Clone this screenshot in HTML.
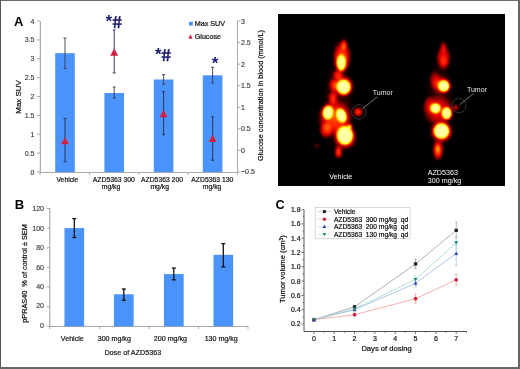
<!DOCTYPE html>
<html><head><meta charset="utf-8"><title>AZD5363 figure</title>
<style>
html,body{margin:0;padding:0;background:#fff;}
svg{display:block;}
text{font-family:"Liberation Sans", Arial, sans-serif;}
.s{stroke-width:0.22px;}
</style></head><body>
<svg width="520" height="369" viewBox="0 0 520 369">
<rect x="0" y="0" width="520" height="369" fill="#fff"/>

<text x="14" y="26" font-size="13" font-weight="bold" fill="#000">A</text>
<line x1="40.3" y1="21" x2="40.3" y2="172.5" stroke="#9a9a9a" stroke-width="1"/>
<line x1="237.5" y1="21" x2="237.5" y2="172.5" stroke="#a8a8a8" stroke-width="1"/>
<line x1="40" y1="172.5" x2="237.5" y2="172.5" stroke="#a8a8a8" stroke-width="1"/>
<line x1="37" y1="21.00" x2="40" y2="21.00" stroke="#a8a8a8" stroke-width="1"/>
<text x="34.5" y="23.50" font-size="7" text-anchor="end" fill="#3c3c3c" stroke="#3c3c3c" stroke-width="0.15">4</text>
<line x1="37" y1="39.88" x2="40" y2="39.88" stroke="#a8a8a8" stroke-width="1"/>
<text x="34.5" y="42.38" font-size="7" text-anchor="end" fill="#3c3c3c" stroke="#3c3c3c" stroke-width="0.15">3.5</text>
<line x1="37" y1="58.75" x2="40" y2="58.75" stroke="#a8a8a8" stroke-width="1"/>
<text x="34.5" y="61.25" font-size="7" text-anchor="end" fill="#3c3c3c" stroke="#3c3c3c" stroke-width="0.15">3</text>
<line x1="37" y1="77.62" x2="40" y2="77.62" stroke="#a8a8a8" stroke-width="1"/>
<text x="34.5" y="80.12" font-size="7" text-anchor="end" fill="#3c3c3c" stroke="#3c3c3c" stroke-width="0.15">2.5</text>
<line x1="37" y1="96.50" x2="40" y2="96.50" stroke="#a8a8a8" stroke-width="1"/>
<text x="34.5" y="99.00" font-size="7" text-anchor="end" fill="#3c3c3c" stroke="#3c3c3c" stroke-width="0.15">2</text>
<line x1="37" y1="115.38" x2="40" y2="115.38" stroke="#a8a8a8" stroke-width="1"/>
<text x="34.5" y="117.88" font-size="7" text-anchor="end" fill="#3c3c3c" stroke="#3c3c3c" stroke-width="0.15">1.5</text>
<line x1="37" y1="134.25" x2="40" y2="134.25" stroke="#a8a8a8" stroke-width="1"/>
<text x="34.5" y="136.75" font-size="7" text-anchor="end" fill="#3c3c3c" stroke="#3c3c3c" stroke-width="0.15">1</text>
<line x1="37" y1="153.12" x2="40" y2="153.12" stroke="#a8a8a8" stroke-width="1"/>
<text x="34.5" y="155.62" font-size="7" text-anchor="end" fill="#3c3c3c" stroke="#3c3c3c" stroke-width="0.15">0.5</text>
<line x1="37" y1="172.00" x2="40" y2="172.00" stroke="#a8a8a8" stroke-width="1"/>
<text x="34.5" y="174.50" font-size="7" text-anchor="end" fill="#3c3c3c" stroke="#3c3c3c" stroke-width="0.15">0</text>
<line x1="237.5" y1="21.00" x2="240.5" y2="21.00" stroke="#a8a8a8" stroke-width="1"/>
<text x="241" y="23.50" font-size="7" fill="#3c3c3c" stroke="#3c3c3c" stroke-width="0.15">3</text>
<line x1="237.5" y1="42.57" x2="240.5" y2="42.57" stroke="#a8a8a8" stroke-width="1"/>
<text x="241" y="45.07" font-size="7" fill="#3c3c3c" stroke="#3c3c3c" stroke-width="0.15">2.5</text>
<line x1="237.5" y1="64.14" x2="240.5" y2="64.14" stroke="#a8a8a8" stroke-width="1"/>
<text x="241" y="66.64" font-size="7" fill="#3c3c3c" stroke="#3c3c3c" stroke-width="0.15">2</text>
<line x1="237.5" y1="85.71" x2="240.5" y2="85.71" stroke="#a8a8a8" stroke-width="1"/>
<text x="241" y="88.21" font-size="7" fill="#3c3c3c" stroke="#3c3c3c" stroke-width="0.15">1.5</text>
<line x1="237.5" y1="107.28" x2="240.5" y2="107.28" stroke="#a8a8a8" stroke-width="1"/>
<text x="241" y="109.78" font-size="7" fill="#3c3c3c" stroke="#3c3c3c" stroke-width="0.15">1</text>
<line x1="237.5" y1="128.85" x2="240.5" y2="128.85" stroke="#a8a8a8" stroke-width="1"/>
<text x="241" y="131.35" font-size="7" fill="#3c3c3c" stroke="#3c3c3c" stroke-width="0.15">0.5</text>
<line x1="237.5" y1="150.42" x2="240.5" y2="150.42" stroke="#a8a8a8" stroke-width="1"/>
<text x="241" y="152.92" font-size="7" fill="#3c3c3c" stroke="#3c3c3c" stroke-width="0.15">0</text>
<line x1="237.5" y1="171.99" x2="240.5" y2="171.99" stroke="#a8a8a8" stroke-width="1"/>
<text x="241" y="174.49" font-size="7" fill="#3c3c3c" stroke="#3c3c3c" stroke-width="0.15">−0.5</text>
<line x1="40" y1="172.5" x2="40" y2="175" stroke="#a8a8a8" stroke-width="1"/>
<line x1="89.4" y1="172.5" x2="89.4" y2="175" stroke="#a8a8a8" stroke-width="1"/>
<line x1="138.8" y1="172.5" x2="138.8" y2="175" stroke="#a8a8a8" stroke-width="1"/>
<line x1="188.2" y1="172.5" x2="188.2" y2="175" stroke="#a8a8a8" stroke-width="1"/>
<line x1="237.5" y1="172.5" x2="237.5" y2="175" stroke="#a8a8a8" stroke-width="1"/>
<text transform="translate(20.7,97) rotate(-90)" font-size="7.9" text-anchor="middle" fill="#111" stroke="#111" stroke-width="0.22">Max SUV</text>
<text transform="translate(263.3,95.5) rotate(-90)" font-size="7.3" text-anchor="middle" fill="#111" stroke="#111" stroke-width="0.22">Glucose concentration in blood (mmol/L)</text>
<text x="67.4" y="182" font-size="6.8" text-anchor="middle" fill="#1a1a1a" stroke="#1a1a1a" stroke-width="0.22">Vehicle</text>
<text x="113.8" y="182" font-size="6.8" text-anchor="middle" fill="#1a1a1a" stroke="#1a1a1a" stroke-width="0.22">AZD5363 300</text>
<text x="111.0" y="188.5" font-size="6.8" text-anchor="middle" fill="#1a1a1a" stroke="#1a1a1a" stroke-width="0.22">mg/kg</text>
<text x="162.0" y="182" font-size="6.8" text-anchor="middle" fill="#1a1a1a" stroke="#1a1a1a" stroke-width="0.22">AZD5363 200</text>
<text x="159.7" y="188.5" font-size="6.8" text-anchor="middle" fill="#1a1a1a" stroke="#1a1a1a" stroke-width="0.22">mg/kg</text>
<text x="212.3" y="182" font-size="6.8" text-anchor="middle" fill="#1a1a1a" stroke="#1a1a1a" stroke-width="0.22">AZD5363 130</text>
<text x="212.1" y="188.5" font-size="6.8" text-anchor="middle" fill="#1a1a1a" stroke="#1a1a1a" stroke-width="0.22">mg/kg</text>
<rect x="55.20" y="53.20" width="19.6" height="118.80" fill="#4a93fa"/>
<rect x="104.40" y="93.00" width="19.6" height="79.00" fill="#4a93fa"/>
<rect x="153.80" y="79.50" width="19.6" height="92.50" fill="#4a93fa"/>
<rect x="202.80" y="75.30" width="19.6" height="96.70" fill="#4a93fa"/>
<line x1="65.0" y1="38.1" x2="65.0" y2="68.5" stroke="#3a3a4a" stroke-width="0.9"/>
<line x1="63.5" y1="38.1" x2="66.5" y2="38.1" stroke="#3a3a4a" stroke-width="0.9"/>
<line x1="63.5" y1="68.5" x2="66.5" y2="68.5" stroke="#3a3a4a" stroke-width="0.9"/>
<line x1="114.2" y1="87.0" x2="114.2" y2="98.0" stroke="#3a3a4a" stroke-width="0.9"/>
<line x1="112.7" y1="87.0" x2="115.7" y2="87.0" stroke="#3a3a4a" stroke-width="0.9"/>
<line x1="112.7" y1="98.0" x2="115.7" y2="98.0" stroke="#3a3a4a" stroke-width="0.9"/>
<line x1="163.6" y1="74.6" x2="163.6" y2="84.1" stroke="#3a3a4a" stroke-width="0.9"/>
<line x1="162.1" y1="74.6" x2="165.1" y2="74.6" stroke="#3a3a4a" stroke-width="0.9"/>
<line x1="162.1" y1="84.1" x2="165.1" y2="84.1" stroke="#3a3a4a" stroke-width="0.9"/>
<line x1="212.6" y1="67.3" x2="212.6" y2="82.9" stroke="#3a3a4a" stroke-width="0.9"/>
<line x1="211.1" y1="67.3" x2="214.1" y2="67.3" stroke="#3a3a4a" stroke-width="0.9"/>
<line x1="211.1" y1="82.9" x2="214.1" y2="82.9" stroke="#3a3a4a" stroke-width="0.9"/>
<line x1="65.0" y1="118.6" x2="65.0" y2="161.9" stroke="#2a2a48" stroke-width="0.9"/>
<line x1="63.5" y1="118.6" x2="66.5" y2="118.6" stroke="#2a2a48" stroke-width="0.9"/>
<line x1="63.5" y1="161.9" x2="66.5" y2="161.9" stroke="#2a2a48" stroke-width="0.9"/>
<polygon points="65.00,137.00 69.00,144.20 61.00,144.20" fill="#d4203f"/>
<line x1="114.2" y1="30.0" x2="114.2" y2="72.9" stroke="#2a2a48" stroke-width="0.9"/>
<line x1="112.7" y1="30.0" x2="115.7" y2="30.0" stroke="#2a2a48" stroke-width="0.9"/>
<line x1="112.7" y1="72.9" x2="115.7" y2="72.9" stroke="#2a2a48" stroke-width="0.9"/>
<polygon points="114.20,48.50 118.20,55.70 110.20,55.70" fill="#d4203f"/>
<line x1="163.6" y1="91.6" x2="163.6" y2="134.7" stroke="#2a2a48" stroke-width="0.9"/>
<line x1="162.1" y1="91.6" x2="165.1" y2="91.6" stroke="#2a2a48" stroke-width="0.9"/>
<line x1="162.1" y1="134.7" x2="165.1" y2="134.7" stroke="#2a2a48" stroke-width="0.9"/>
<polygon points="163.60,110.00 167.60,117.20 159.60,117.20" fill="#d4203f"/>
<line x1="212.6" y1="116.8" x2="212.6" y2="160.2" stroke="#2a2a48" stroke-width="0.9"/>
<line x1="211.1" y1="116.8" x2="214.1" y2="116.8" stroke="#2a2a48" stroke-width="0.9"/>
<line x1="211.1" y1="160.2" x2="214.1" y2="160.2" stroke="#2a2a48" stroke-width="0.9"/>
<polygon points="212.60,134.80 216.60,142.00 208.60,142.00" fill="#d4203f"/>
<text x="105.6" y="26.6" font-size="17" font-weight="bold" fill="#1c1c6c">*</text>
<text transform="translate(112.9,27.6) skewX(6)" font-size="17.2" font-weight="bold" fill="#1c1c6c" stroke="#1c1c6c" stroke-width="0.35">#</text>
<text x="155.0" y="59.6" font-size="17" font-weight="bold" fill="#1c1c6c">*</text>
<text transform="translate(161.9,61.0) skewX(6)" font-size="17.2" font-weight="bold" fill="#1c1c6c" stroke="#1c1c6c" stroke-width="0.35">#</text>
<text x="211.7" y="69.0" font-size="17" font-weight="bold" fill="#1c1c6c">*</text>
<rect x="189" y="21.8" width="3.8" height="3.8" fill="#4a93fa"/>
<text x="194.7" y="26.1" font-size="7.2" fill="#111" stroke="#111" stroke-width="0.22">Max SUV</text>
<polygon points="190.5,34.2 192.6,38.7 188.4,38.7" fill="#d4203f"/>
<text x="194.7" y="38.8" font-size="7.2" fill="#111" stroke="#111" stroke-width="0.22">Glucose</text>
<text x="14.7" y="208.5" font-size="13" font-weight="bold" fill="#000">B</text>
<line x1="49.8" y1="208.3" x2="49.8" y2="326.5" stroke="#999" stroke-width="1"/>
<line x1="50" y1="326.5" x2="248" y2="326.5" stroke="#a8a8a8" stroke-width="1"/>
<line x1="47" y1="208.46" x2="50" y2="208.46" stroke="#a8a8a8" stroke-width="1"/>
<text x="44" y="211.20" font-size="7" text-anchor="end" fill="#3c3c3c" stroke="#3c3c3c" stroke-width="0.15">120</text>
<line x1="47" y1="228.10" x2="50" y2="228.10" stroke="#a8a8a8" stroke-width="1"/>
<text x="44" y="230.65" font-size="7" text-anchor="end" fill="#3c3c3c" stroke="#3c3c3c" stroke-width="0.15">100</text>
<line x1="47" y1="247.74" x2="50" y2="247.74" stroke="#a8a8a8" stroke-width="1"/>
<text x="44" y="250.10" font-size="7" text-anchor="end" fill="#3c3c3c" stroke="#3c3c3c" stroke-width="0.15">80</text>
<line x1="47" y1="267.38" x2="50" y2="267.38" stroke="#a8a8a8" stroke-width="1"/>
<text x="44" y="269.55" font-size="7" text-anchor="end" fill="#3c3c3c" stroke="#3c3c3c" stroke-width="0.15">60</text>
<line x1="47" y1="287.02" x2="50" y2="287.02" stroke="#a8a8a8" stroke-width="1"/>
<text x="44" y="289.00" font-size="7" text-anchor="end" fill="#3c3c3c" stroke="#3c3c3c" stroke-width="0.15">40</text>
<line x1="47" y1="306.66" x2="50" y2="306.66" stroke="#a8a8a8" stroke-width="1"/>
<text x="44" y="308.45" font-size="7" text-anchor="end" fill="#3c3c3c" stroke="#3c3c3c" stroke-width="0.15">20</text>
<line x1="47" y1="326.30" x2="50" y2="326.30" stroke="#a8a8a8" stroke-width="1"/>
<text x="44" y="327.90" font-size="7" text-anchor="end" fill="#3c3c3c" stroke="#3c3c3c" stroke-width="0.15">0</text>
<line x1="50" y1="326.5" x2="50" y2="329" stroke="#a8a8a8" stroke-width="1"/>
<line x1="99.5" y1="326.5" x2="99.5" y2="329" stroke="#a8a8a8" stroke-width="1"/>
<line x1="149" y1="326.5" x2="149" y2="329" stroke="#a8a8a8" stroke-width="1"/>
<line x1="198.5" y1="326.5" x2="198.5" y2="329" stroke="#a8a8a8" stroke-width="1"/>
<line x1="248" y1="326.5" x2="248" y2="329" stroke="#a8a8a8" stroke-width="1"/>
<rect x="64.45" y="228.10" width="19.7" height="98.20" fill="#4a93fa"/>
<rect x="113.95" y="294.29" width="19.7" height="32.01" fill="#4a93fa"/>
<rect x="163.95" y="274.06" width="19.7" height="52.24" fill="#4a93fa"/>
<rect x="213.45" y="254.81" width="19.7" height="71.49" fill="#4a93fa"/>
<line x1="74.3" y1="218.67" x2="74.3" y2="237.53" stroke="#111" stroke-width="1.3"/>
<line x1="72.3" y1="218.67" x2="76.3" y2="218.67" stroke="#111" stroke-width="1.3"/>
<line x1="72.3" y1="237.53" x2="76.3" y2="237.53" stroke="#111" stroke-width="1.3"/>
<line x1="123.8" y1="288.98" x2="123.8" y2="300.28" stroke="#111" stroke-width="1.3"/>
<line x1="121.8" y1="288.98" x2="125.8" y2="288.98" stroke="#111" stroke-width="1.3"/>
<line x1="121.8" y1="300.28" x2="125.8" y2="300.28" stroke="#111" stroke-width="1.3"/>
<line x1="173.8" y1="268.07" x2="173.8" y2="279.85" stroke="#111" stroke-width="1.3"/>
<line x1="171.8" y1="268.07" x2="175.8" y2="268.07" stroke="#111" stroke-width="1.3"/>
<line x1="171.8" y1="279.85" x2="175.8" y2="279.85" stroke="#111" stroke-width="1.3"/>
<line x1="223.3" y1="243.62" x2="223.3" y2="266.89" stroke="#111" stroke-width="1.3"/>
<line x1="221.3" y1="243.62" x2="225.3" y2="243.62" stroke="#111" stroke-width="1.3"/>
<line x1="221.3" y1="266.89" x2="225.3" y2="266.89" stroke="#111" stroke-width="1.3"/>
<text x="72.3" y="340.6" font-size="7.1" text-anchor="middle" fill="#1a1a1a" stroke="#1a1a1a" stroke-width="0.22">Vehicle</text>
<text x="114.3" y="340.6" font-size="7.1" text-anchor="middle" fill="#1a1a1a" stroke="#1a1a1a" stroke-width="0.22">300 mg/kg</text>
<text x="170.4" y="340.6" font-size="7.1" text-anchor="middle" fill="#1a1a1a" stroke="#1a1a1a" stroke-width="0.22">200 mg/kg</text>
<text x="221.2" y="340.6" font-size="7.1" text-anchor="middle" fill="#1a1a1a" stroke="#1a1a1a" stroke-width="0.22">130 mg/kg</text>
<text x="132.8" y="354.8" font-size="7.2" text-anchor="middle" fill="#1a1a1a" stroke="#1a1a1a" stroke-width="0.22">Dose of AZD5363</text>
<text transform="translate(27.2,273.5) rotate(-90)" font-size="7.3" text-anchor="middle" fill="#111" stroke="#111" stroke-width="0.22" xml:space="preserve">pPRAS40  % of control ± SEM</text>
<text x="275.6" y="208.6" font-size="12.6" font-weight="bold" fill="#000">C</text>
<line x1="304" y1="209.60" x2="304" y2="331.5" stroke="#555" stroke-width="1"/>
<line x1="304" y1="331.5" x2="467" y2="331.5" stroke="#555" stroke-width="1"/>
<line x1="301.5" y1="324.00" x2="304" y2="324.00" stroke="#555" stroke-width="0.8"/>
<text x="300.5" y="326.40" font-size="6.9" text-anchor="end" fill="#1a1a1a" stroke="#1a1a1a" stroke-width="0.22">0.2</text>
<line x1="301.5" y1="309.70" x2="304" y2="309.70" stroke="#555" stroke-width="0.8"/>
<text x="300.5" y="312.10" font-size="6.9" text-anchor="end" fill="#1a1a1a" stroke="#1a1a1a" stroke-width="0.22">0.4</text>
<line x1="301.5" y1="295.40" x2="304" y2="295.40" stroke="#555" stroke-width="0.8"/>
<text x="300.5" y="297.80" font-size="6.9" text-anchor="end" fill="#1a1a1a" stroke="#1a1a1a" stroke-width="0.22">0.6</text>
<line x1="301.5" y1="281.10" x2="304" y2="281.10" stroke="#555" stroke-width="0.8"/>
<text x="300.5" y="283.50" font-size="6.9" text-anchor="end" fill="#1a1a1a" stroke="#1a1a1a" stroke-width="0.22">0.8</text>
<line x1="301.5" y1="266.80" x2="304" y2="266.80" stroke="#555" stroke-width="0.8"/>
<text x="300.5" y="269.20" font-size="6.9" text-anchor="end" fill="#1a1a1a" stroke="#1a1a1a" stroke-width="0.22">1.0</text>
<line x1="301.5" y1="252.50" x2="304" y2="252.50" stroke="#555" stroke-width="0.8"/>
<text x="300.5" y="254.90" font-size="6.9" text-anchor="end" fill="#1a1a1a" stroke="#1a1a1a" stroke-width="0.22">1.2</text>
<line x1="301.5" y1="238.20" x2="304" y2="238.20" stroke="#555" stroke-width="0.8"/>
<text x="300.5" y="240.60" font-size="6.9" text-anchor="end" fill="#1a1a1a" stroke="#1a1a1a" stroke-width="0.22">1.4</text>
<line x1="301.5" y1="223.90" x2="304" y2="223.90" stroke="#555" stroke-width="0.8"/>
<text x="300.5" y="226.30" font-size="6.9" text-anchor="end" fill="#1a1a1a" stroke="#1a1a1a" stroke-width="0.22">1.6</text>
<line x1="301.5" y1="209.60" x2="304" y2="209.60" stroke="#555" stroke-width="0.8"/>
<text x="300.5" y="212.00" font-size="6.9" text-anchor="end" fill="#1a1a1a" stroke="#1a1a1a" stroke-width="0.22">1.8</text>
<line x1="302.5" y1="316.85" x2="304" y2="316.85" stroke="#555" stroke-width="0.7"/>
<line x1="302.5" y1="302.55" x2="304" y2="302.55" stroke="#555" stroke-width="0.7"/>
<line x1="302.5" y1="288.25" x2="304" y2="288.25" stroke="#555" stroke-width="0.7"/>
<line x1="302.5" y1="273.95" x2="304" y2="273.95" stroke="#555" stroke-width="0.7"/>
<line x1="302.5" y1="259.65" x2="304" y2="259.65" stroke="#555" stroke-width="0.7"/>
<line x1="302.5" y1="245.35" x2="304" y2="245.35" stroke="#555" stroke-width="0.7"/>
<line x1="302.5" y1="231.05" x2="304" y2="231.05" stroke="#555" stroke-width="0.7"/>
<line x1="302.5" y1="216.75" x2="304" y2="216.75" stroke="#555" stroke-width="0.7"/>
<line x1="313.90" y1="331.5" x2="313.90" y2="334" stroke="#555" stroke-width="0.8"/>
<text x="313.90" y="340.5" font-size="7" text-anchor="middle" fill="#1a1a1a" stroke="#1a1a1a" stroke-width="0.22">0</text>
<line x1="324.06" y1="331.5" x2="324.06" y2="333" stroke="#555" stroke-width="0.7"/>
<line x1="334.23" y1="331.5" x2="334.23" y2="334" stroke="#555" stroke-width="0.8"/>
<text x="334.23" y="340.5" font-size="7" text-anchor="middle" fill="#1a1a1a" stroke="#1a1a1a" stroke-width="0.22">1</text>
<line x1="344.39" y1="331.5" x2="344.39" y2="333" stroke="#555" stroke-width="0.7"/>
<line x1="354.56" y1="331.5" x2="354.56" y2="334" stroke="#555" stroke-width="0.8"/>
<text x="354.56" y="340.5" font-size="7" text-anchor="middle" fill="#1a1a1a" stroke="#1a1a1a" stroke-width="0.22">2</text>
<line x1="364.72" y1="331.5" x2="364.72" y2="333" stroke="#555" stroke-width="0.7"/>
<line x1="374.89" y1="331.5" x2="374.89" y2="334" stroke="#555" stroke-width="0.8"/>
<text x="374.89" y="340.5" font-size="7" text-anchor="middle" fill="#1a1a1a" stroke="#1a1a1a" stroke-width="0.22">3</text>
<line x1="385.05" y1="331.5" x2="385.05" y2="333" stroke="#555" stroke-width="0.7"/>
<line x1="395.22" y1="331.5" x2="395.22" y2="334" stroke="#555" stroke-width="0.8"/>
<text x="395.22" y="340.5" font-size="7" text-anchor="middle" fill="#1a1a1a" stroke="#1a1a1a" stroke-width="0.22">4</text>
<line x1="405.38" y1="331.5" x2="405.38" y2="333" stroke="#555" stroke-width="0.7"/>
<line x1="415.55" y1="331.5" x2="415.55" y2="334" stroke="#555" stroke-width="0.8"/>
<text x="415.55" y="340.5" font-size="7" text-anchor="middle" fill="#1a1a1a" stroke="#1a1a1a" stroke-width="0.22">5</text>
<line x1="425.71" y1="331.5" x2="425.71" y2="333" stroke="#555" stroke-width="0.7"/>
<line x1="435.88" y1="331.5" x2="435.88" y2="334" stroke="#555" stroke-width="0.8"/>
<text x="435.88" y="340.5" font-size="7" text-anchor="middle" fill="#1a1a1a" stroke="#1a1a1a" stroke-width="0.22">6</text>
<line x1="446.04" y1="331.5" x2="446.04" y2="333" stroke="#555" stroke-width="0.7"/>
<line x1="456.21" y1="331.5" x2="456.21" y2="334" stroke="#555" stroke-width="0.8"/>
<text x="456.21" y="340.5" font-size="7" text-anchor="middle" fill="#1a1a1a" stroke="#1a1a1a" stroke-width="0.22">7</text>
<line x1="466.38" y1="331.5" x2="466.38" y2="333" stroke="#555" stroke-width="0.7"/>
<text x="386.5" y="351.2" font-size="7.6" text-anchor="middle" fill="#111" stroke="#111" stroke-width="0.22">Days of dosing</text>
<text transform="translate(285.2,269.2) rotate(-90)" font-size="7.55" text-anchor="middle" fill="#111" stroke="#111" stroke-width="0.22">Tumor volume (cm<tspan font-size="4.8" dy="-2.5">3</tspan><tspan dy="2.5">)</tspan></text>
<line x1="415.55" y1="259.29" x2="415.55" y2="268.59" stroke="#9a9a9a" stroke-width="0.7"/>
<line x1="414.25" y1="268.59" x2="416.85" y2="268.59" stroke="#9a9a9a" stroke-width="0.7"/>
<line x1="414.25" y1="259.29" x2="416.85" y2="259.29" stroke="#9a9a9a" stroke-width="0.7"/>
<line x1="456.21" y1="222.11" x2="456.21" y2="237.84" stroke="#9a9a9a" stroke-width="0.7"/>
<line x1="454.91" y1="237.84" x2="457.51" y2="237.84" stroke="#9a9a9a" stroke-width="0.7"/>
<line x1="454.91" y1="222.11" x2="457.51" y2="222.11" stroke="#9a9a9a" stroke-width="0.7"/>
<line x1="415.55" y1="293.97" x2="415.55" y2="303.26" stroke="#f29a9a" stroke-width="0.7"/>
<line x1="414.25" y1="303.26" x2="416.85" y2="303.26" stroke="#f29a9a" stroke-width="0.7"/>
<line x1="414.25" y1="293.97" x2="416.85" y2="293.97" stroke="#f29a9a" stroke-width="0.7"/>
<line x1="456.21" y1="274.67" x2="456.21" y2="285.03" stroke="#f29a9a" stroke-width="0.7"/>
<line x1="454.91" y1="285.03" x2="457.51" y2="285.03" stroke="#f29a9a" stroke-width="0.7"/>
<line x1="454.91" y1="274.67" x2="457.51" y2="274.67" stroke="#f29a9a" stroke-width="0.7"/>
<line x1="415.55" y1="278.95" x2="415.55" y2="286.82" stroke="#9ab4e8" stroke-width="0.7"/>
<line x1="414.25" y1="286.82" x2="416.85" y2="286.82" stroke="#9ab4e8" stroke-width="0.7"/>
<line x1="414.25" y1="278.95" x2="416.85" y2="278.95" stroke="#9ab4e8" stroke-width="0.7"/>
<line x1="456.21" y1="245.35" x2="456.21" y2="265.37" stroke="#9ab4e8" stroke-width="0.7"/>
<line x1="454.91" y1="265.37" x2="457.51" y2="265.37" stroke="#9ab4e8" stroke-width="0.7"/>
<line x1="454.91" y1="245.35" x2="457.51" y2="245.35" stroke="#9ab4e8" stroke-width="0.7"/>
<line x1="415.55" y1="276.10" x2="415.55" y2="282.53" stroke="#9ad8cc" stroke-width="0.7"/>
<line x1="414.25" y1="282.53" x2="416.85" y2="282.53" stroke="#9ad8cc" stroke-width="0.7"/>
<line x1="414.25" y1="276.10" x2="416.85" y2="276.10" stroke="#9ad8cc" stroke-width="0.7"/>
<line x1="456.21" y1="236.77" x2="456.21" y2="248.93" stroke="#9ad8cc" stroke-width="0.7"/>
<line x1="454.91" y1="248.93" x2="457.51" y2="248.93" stroke="#9ad8cc" stroke-width="0.7"/>
<line x1="454.91" y1="236.77" x2="457.51" y2="236.77" stroke="#9ad8cc" stroke-width="0.7"/>
<polyline points="313.90,319.71 354.56,306.84 415.55,263.94 456.21,230.33" fill="none" stroke="#9a9a9a" stroke-width="0.8"/>
<polyline points="313.90,319.71 354.56,314.70 415.55,298.69 456.21,279.81" fill="none" stroke="#f29a9a" stroke-width="0.8"/>
<polyline points="313.90,319.71 354.56,309.70 415.55,283.25 456.21,253.43" fill="none" stroke="#9ab4e8" stroke-width="0.8"/>
<polyline points="313.90,319.71 354.56,308.99 415.55,279.38 456.21,242.70" fill="none" stroke="#9ad8cc" stroke-width="0.8"/>
<rect x="312.25" y="318.06" width="3.30" height="3.30" fill="#222"/>
<rect x="352.91" y="305.19" width="3.30" height="3.30" fill="#222"/>
<rect x="413.90" y="262.29" width="3.30" height="3.30" fill="#222"/>
<rect x="454.56" y="228.68" width="3.30" height="3.30" fill="#222"/>
<circle cx="313.90" cy="319.71" r="1.85" fill="#d0203a"/>
<circle cx="354.56" cy="314.70" r="1.85" fill="#d0203a"/>
<circle cx="415.55" cy="298.69" r="1.85" fill="#d0203a"/>
<circle cx="456.21" cy="279.81" r="1.85" fill="#d0203a"/>
<polygon points="313.90,317.66 315.85,321.16 311.95,321.16" fill="#2a3fb0"/>
<polygon points="354.56,307.65 356.51,311.15 352.61,311.15" fill="#2a3fb0"/>
<polygon points="415.55,281.20 417.50,284.69 413.60,284.69" fill="#2a3fb0"/>
<polygon points="456.21,251.38 458.16,254.88 454.26,254.88" fill="#2a3fb0"/>
<polygon points="313.90,321.76 315.85,318.26 311.95,318.26" fill="#1f8a7a"/>
<polygon points="354.56,311.03 356.51,307.54 352.61,307.54" fill="#1f8a7a"/>
<polygon points="415.55,281.43 417.50,277.93 413.60,277.93" fill="#1f8a7a"/>
<polygon points="456.21,244.75 458.16,241.25 454.26,241.25" fill="#1f8a7a"/>
<rect x="315.2" y="207.5" width="94.8" height="31.2" fill="#fff" stroke="#cfcfcf" stroke-width="0.8"/>
<line x1="317.6" y1="211.60" x2="331.2" y2="211.60" stroke="#9a9a9a" stroke-width="0.8" opacity="0.55"/>
<rect x="322.90" y="210.10" width="3.00" height="3.00" fill="#222"/>
<text x="333.9" y="214.00" font-size="6.7" fill="#111" stroke="#111" stroke-width="0.22" xml:space="preserve">Vehicle</text>
<line x1="317.6" y1="219.17" x2="331.2" y2="219.17" stroke="#f29a9a" stroke-width="0.8" opacity="0.55"/>
<circle cx="324.40" cy="219.17" r="1.70" fill="#d0203a"/>
<text x="333.9" y="221.57" font-size="6.7" fill="#111" stroke="#111" stroke-width="0.22" xml:space="preserve">AZD5363  300 mg/kg  qd</text>
<line x1="317.6" y1="226.74" x2="331.2" y2="226.74" stroke="#9ab4e8" stroke-width="0.8" opacity="0.55"/>
<polygon points="324.40,224.84 326.20,228.04 322.60,228.04" fill="#2a3fb0"/>
<text x="333.9" y="229.14" font-size="6.7" fill="#111" stroke="#111" stroke-width="0.22" xml:space="preserve">AZD5363  200 mg/kg  qd</text>
<line x1="317.6" y1="234.31" x2="331.2" y2="234.31" stroke="#9ad8cc" stroke-width="0.8" opacity="0.55"/>
<polygon points="324.40,236.21 326.20,233.01 322.60,233.01" fill="#1f8a7a"/>
<text x="333.9" y="236.71" font-size="6.7" fill="#111" stroke="#111" stroke-width="0.22" xml:space="preserve">AZD5363  130 mg/kg  qd</text>
<defs>
<filter id="hot" x="0" y="0" width="1" height="1" color-interpolation-filters="sRGB">
<feGaussianBlur stdDeviation="1"/>
<feComponentTransfer>
<feFuncR type="table" tableValues="0 0.3 0.6 0.85 1 1 1 1 1 1 1"/>
<feFuncG type="table" tableValues="0 0 0 0 0.12 0.35 0.6 0.85 1 1 1"/>
<feFuncB type="table" tableValues="0 0 0 0 0 0 0 0 0.2 0.5 0.7"/>
<feFuncA type="identity"/>
</feComponentTransfer>
</filter>
<radialGradient id="gs"><stop offset="0" stop-color="#fff" stop-opacity="1"/><stop offset="0.7" stop-color="#fff" stop-opacity="0.97"/><stop offset="0.85" stop-color="#fff" stop-opacity="0.55"/><stop offset="1" stop-color="#fff" stop-opacity="0"/></radialGradient>
<radialGradient id="gg"><stop offset="0" stop-color="#fff" stop-opacity="1"/><stop offset="0.5" stop-color="#fff" stop-opacity="0.75"/><stop offset="1" stop-color="#fff" stop-opacity="0"/></radialGradient>
</defs>
<rect x="278" y="14" width="227" height="172" fill="#000"/>
<g filter="url(#hot)"><rect x="278" y="14" width="227" height="172" fill="#000"/>
<ellipse cx="338" cy="105" rx="16" ry="50" fill="url(#gg)" opacity="0.08"/>
<ellipse cx="342" cy="57" rx="9.5" ry="17" fill="url(#gg)" opacity="0.5"/>
<ellipse cx="344" cy="45" rx="3.5" ry="6.5" fill="url(#gg)" opacity="0.45"/>
<ellipse cx="341.3" cy="62.8" rx="5.4" ry="9.2" fill="url(#gs)" opacity="0.88"/>
<ellipse cx="333.5" cy="85" rx="5" ry="8" fill="url(#gg)" opacity="0.36"/>
<ellipse cx="338" cy="75" rx="6" ry="6" fill="url(#gg)" opacity="0.42"/>
<ellipse cx="333" cy="98" rx="5" ry="8" fill="url(#gg)" opacity="0.42"/>
<ellipse cx="343" cy="86" rx="11.5" ry="11.5" fill="url(#gg)" opacity="0.5"/>
<ellipse cx="343.8" cy="87" rx="7.8" ry="8.3" fill="url(#gs)" opacity="0.97"/>
<ellipse cx="335" cy="118" rx="18" ry="19" fill="url(#gg)" opacity="0.47"/>
<ellipse cx="326" cy="130" rx="7" ry="9" fill="url(#gg)" opacity="0.42"/>
<ellipse cx="327.9" cy="112.5" rx="6" ry="7.8" fill="url(#gs)" opacity="0.97" transform="rotate(10 327.9 112.5)"/>
<ellipse cx="341.5" cy="115.5" rx="5.5" ry="8.2" fill="url(#gs)" opacity="0.97" transform="rotate(-20 341.5 115.5)"/>
<ellipse cx="345" cy="137.2" rx="12.5" ry="13.5" fill="url(#gg)" opacity="0.45"/>
<ellipse cx="345" cy="135.5" rx="9.2" ry="10.6" fill="url(#gs)" opacity="0.98"/>
<ellipse cx="349.7" cy="126.6" rx="2.5" ry="2.5" fill="url(#gs)" opacity="0.8"/>
<ellipse cx="338.5" cy="152" rx="4" ry="7" fill="url(#gg)" opacity="0.52"/>
<ellipse cx="317" cy="146" rx="3" ry="3" fill="url(#gg)" opacity="0.14"/>
<ellipse cx="358.2" cy="112" rx="5" ry="5" fill="url(#gg)" opacity="0.5"/>
<ellipse cx="440" cy="105" rx="15" ry="50" fill="url(#gg)" opacity="0.07"/>
<ellipse cx="443.5" cy="58" rx="7.5" ry="13" fill="url(#gg)" opacity="0.4"/>
<ellipse cx="443.5" cy="47" rx="3.5" ry="6" fill="url(#gg)" opacity="0.3"/>
<ellipse cx="443.8" cy="62" rx="5" ry="6" fill="url(#gg)" opacity="0.15"/>
<ellipse cx="441" cy="85" rx="10" ry="10.5" fill="url(#gg)" opacity="0.33"/>
<ellipse cx="435" cy="80" rx="6" ry="10" fill="url(#gg)" opacity="0.25"/>
<ellipse cx="429" cy="105" rx="6" ry="10" fill="url(#gg)" opacity="0.2"/>
<ellipse cx="443.8" cy="86" rx="6.6" ry="6.6" fill="url(#gs)" opacity="0.97"/>
<ellipse cx="438" cy="110" rx="16" ry="16" fill="url(#gg)" opacity="0.33"/>
<ellipse cx="435.5" cy="108.3" rx="5.7" ry="5.7" fill="url(#gs)" opacity="0.97"/>
<ellipse cx="446.8" cy="113.3" rx="5.6" ry="6.9" fill="url(#gs)" opacity="0.97"/>
<ellipse cx="441.5" cy="131.7" rx="12" ry="12" fill="url(#gg)" opacity="0.42"/>
<ellipse cx="441.5" cy="131" rx="8.9" ry="8.9" fill="url(#gs)" opacity="0.98"/>
<ellipse cx="438" cy="150" rx="5.5" ry="11" fill="url(#gg)" opacity="0.55"/>
<ellipse cx="437.5" cy="149" rx="2.5" ry="4" fill="url(#gg)" opacity="0.35"/>
<ellipse cx="455.6" cy="107.7" rx="3.5" ry="3.5" fill="url(#gg)" opacity="0.3"/>
</g>
<circle cx="358.8" cy="111.9" r="7.2" fill="none" stroke="#4a4a4a" stroke-width="0.7"/>
<line x1="362.5" y1="108.7" x2="377.3" y2="96.9" stroke="#aaa" stroke-width="0.7"/>
<text x="372.8" y="95.1" font-size="7" fill="#e6e6e6">Tumor</text>
<circle cx="458.8" cy="105.6" r="7.2" fill="none" stroke="#4a4a4a" stroke-width="0.7"/>
<line x1="459.8" y1="104.7" x2="473.5" y2="93.5" stroke="#aaa" stroke-width="0.7"/>
<text x="466.9" y="91.6" font-size="7" fill="#e6e6e6">Tumor</text>
<text x="329.2" y="178.8" font-size="7.2" fill="#fff">Vehicle</text>
<text x="427.7" y="174.8" font-size="7.2" fill="#fff">AZD5363</text>
<text x="427.7" y="183.1" font-size="7.2" fill="#fff">300 mg/kg</text>
<rect x="0" y="0" width="520" height="1" fill="#6a6a6a"/>
<rect x="0" y="0" width="1" height="369" fill="#555"/>
<rect x="518" y="0" width="2" height="369" fill="#666"/>
<rect x="0" y="367" width="520" height="2" fill="#666"/>
</svg>
</body></html>
